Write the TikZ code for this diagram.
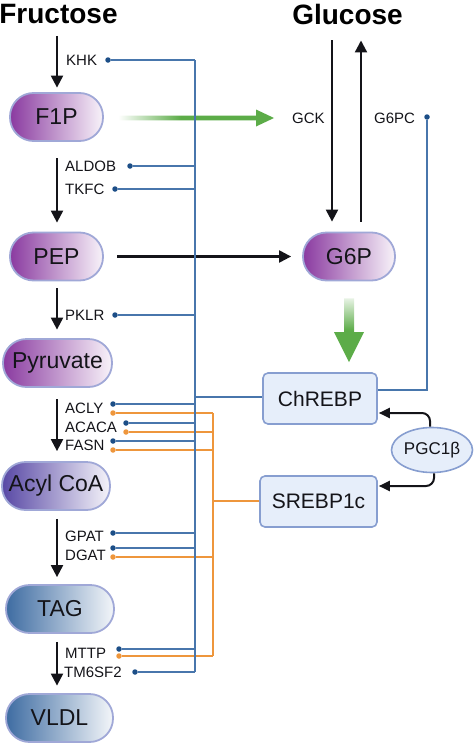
\documentclass[tikz,border=0pt]{standalone}
\usepackage{fontspec}
\setmainfont{Liberation Sans}
\usetikzlibrary{arrows.meta,shapes.geometric,backgrounds}
\definecolor{linkblue}{RGB}{72,118,172}
\definecolor{dotblue}{RGB}{28,78,135}
\definecolor{linkorange}{RGB}{238,150,60}
\definecolor{arrowgreen}{RGB}{92,172,72}
\definecolor{pillline}{RGB}{160,168,215}
\definecolor{boxfill}{RGB}{230,238,250}
\definecolor{boxline}{RGB}{135,158,208}
\definecolor{sugar}{RGB}{138,58,160}
\definecolor{lipid}{RGB}{88,72,165}
\definecolor{fat}{RGB}{62,108,162}
\definecolor{ink}{RGB}{20,20,25}
\colorlet{greenpale}{white!85!arrowgreen}
\pgfdeclarehorizontalshading{faderight}{100bp}{color(0bp)=(white); color(25bp)=(white); color(45bp)=(arrowgreen); color(100bp)=(arrowgreen)}
\pgfdeclareverticalshading{fadedown}{100bp}{color(0bp)=(arrowgreen); color(50bp)=(arrowgreen); color(75bp)=(greenpale); color(100bp)=(greenpale)}

\begin{document}
\begin{tikzpicture}[x=1pt,y=-1pt,
pill/.style={draw=pillline, line width=1.8pt, rounded corners=23.5pt, minimum height=48pt,
    minimum width=93pt, inner sep=0pt, font=\fontsize{23}{23}\selectfont, text=ink,
    left color=#1, right color=white!94!#1},
pill/.default=sugar,
box/.style={draw=boxline, fill=boxfill, line width=1.6pt, rounded corners=5pt,
    minimum height=51pt, inner sep=0pt, font=\fontsize{21}{21}\selectfont, text=ink},
gene/.style={anchor=west, inner sep=0pt, font=\fontsize{15}{15}\selectfont, text=ink},
title/.style={inner sep=0pt, font=\fontsize{28}{28}\selectfont\bfseries},
dot/.style={circle, fill=dotblue, inner sep=0pt, minimum size=5.5pt},
odot/.style={dot, fill=linkorange},
flow/.style={draw=ink, line width=2.2pt, -{Triangle[length=12pt,width=12pt]},
    shorten <=8pt, shorten >=8pt},
bline/.style={draw=linkblue, line width=1.4pt},
oline/.style={draw=linkorange, line width=1.4pt}]
\useasboundingbox (0,0) rectangle (474,744);

\node[title] (fru) at (58.5,14) {Fructose};
\node[title] (glu) at (347.5,14) {Glucose};

\node[pill] (f1p) at (56.5,117) {F1P};
\node[pill] (pep) at (56.5,256.5) {PEP};
\node[pill, minimum width=109pt] (pyr) at (57.5,363) {Pyruvate};
\node[pill=lipid, minimum width=108pt] (acyl) at (56,486) {Acyl CoA};
\node[pill=fat, minimum width=108pt] (tag) at (60,609) {TAG};
\node[pill=fat, minimum width=107pt] (vldl) at (59.5,718) {VLDL};
\node[pill, minimum width=92pt] (g6p) at (349,256.5) {G6P};

\node[box, minimum width=114pt] (chrebp) at (320,398.5) {ChREBP};
\node[box, minimum width=117pt] (srebp) at (318.5,501.5) {SREBP1c};
\node[ellipse, draw=boxline, fill=boxfill, line width=1.6pt, minimum width=81pt,
    minimum height=45pt, inner sep=0pt, font=\fontsize{17}{17}\selectfont, text=ink]
    (pgc) at (432,450) {PGC1β};

\foreach \n/\t/\x/\y in {khk/KHK/66/60.5, aldob/ALDOB/65/166, tkfc/TKFC/65/189,
    pklr/PKLR/65/315, acly/ACLY/65/408, acaca/ACACA/65/427, fasn/FASN/65/445.5,
    gpat/GPAT/65/536, dgat/DGAT/65/555, mttp/MTTP/65/653.5, tm6sf2/TM6SF2/64/672.5,
    gck/GCK/292/118, g6pc/G6PC/374/118}
  \node[gene] (\n) at (\x,\y) {\t};

\foreach \n/\x/\y in {khk/108/60, aldob/130/166, tkfc/115/189, pklr/115/315,
    acly/113/404, acaca/126/423, fasn/113/441, gpat/113/533, dgat/113/548,
    mttp/119/649, tm6sf2/135/672, g6pc/427/117}
  \node[dot] (\n-b) at (\x,\y) {};
\foreach \n/\x/\y in {acly/113/413, acaca/126/432, fasn/113/450, dgat/113/557,
    mttp/119/656}
  \node[odot] (\n-o) at (\x,\y) {};

\coordinate (spine) at (57,0);
\coordinate (bus) at (195,0);
\coordinate (obus) at (213,0);
\coordinate (gdn) at (332,0);
\coordinate (gup) at (361,0);
\coordinate (gs) at (f1p.east |- gck.west);
\coordinate (ge) at ([xshift=-18pt]gck.west);
\coordinate (vs) at ([yshift=-17pt]g6p.south);
\coordinate (ve) at (g6p.south |- chrebp.north);

\draw[flow, shorten <=12pt, shorten >=4.5pt] (fru.south -| spine) -- (f1p.north -| spine);
\draw[flow, shorten <=16.5pt, shorten >=9pt] (f1p.south -| spine) -- (pep.north -| spine);
\draw[flow, shorten <=7pt, shorten >=8.5pt] (pep.south -| spine) -- (pyr.north -| spine);
\draw[flow, shorten <=11.5pt, shorten >=10pt] (pyr.south -| spine) -- (acyl.north -| spine);
\draw[flow, shorten >=7pt] (acyl.south -| spine) -- (tag.north -| spine);
\draw[flow, shorten >=7.5pt] (tag.south -| spine) -- (vldl.north -| spine);
\draw[flow, shorten <=16pt, shorten >=10pt] (glu.south -| gdn) -- (g6p.north -| gdn);
\draw[flow, shorten <=10pt, shorten >=16pt] (g6p.north -| gup) -- (glu.south -| gup);

\draw[flow, line width=2pt, -{Triangle[length=11pt,width=10pt]}, rounded corners=8pt,
    shorten <=0pt, shorten >=1pt] ([xshift=-2pt]pgc.north) |- ([yshift=-14.5pt]chrebp.east);
\draw[flow, line width=2pt, -{Triangle[length=11pt,width=10pt]}, rounded corners=8pt,
    shorten <=0pt, shorten >=1pt] ([xshift=2pt]pgc.south) |- ([yshift=15.5pt]srebp.east);

\begin{scope}[on background layer]
\draw[flow, shorten <=13.5pt, shorten >=11pt] (pep.east) -- (g6p.west);
\shade[shading=faderight] ([shift={(14.5pt,2.4pt)}]gs) -- ([shift={(-18pt,2.4pt)}]ge)
    -- ([shift={(-18pt,8.5pt)}]ge) -- (ge) -- ([shift={(-18pt,-8.5pt)}]ge)
    -- ([shift={(-18pt,-2.4pt)}]ge) -- ([shift={(14.5pt,-2.4pt)}]gs) -- cycle;
\shade[shading=fadedown] ([xshift=-5pt]vs) -- ([shift={(-5pt,40pt)}]ve)
    -- ([shift={(-15pt,40pt)}]ve) -- ([yshift=10pt]ve) -- ([shift={(15pt,40pt)}]ve)
    -- ([shift={(5pt,40pt)}]ve) -- ([xshift=5pt]vs) -- cycle;
\foreach \n in {acly,acaca,fasn,dgat,mttp}
  \draw[oline] (\n-o) -- (\n-o -| obus);
\draw[oline] (acly-o -| obus) -- (mttp-o -| obus);
\draw[oline] ([yshift=0.5pt]srebp.west) -- ([yshift=0.5pt]srebp.west -| obus);
\foreach \n in {khk,aldob,tkfc,pklr,acly,acaca,fasn,gpat,dgat,mttp,tm6sf2}
  \draw[bline] (\n-b) -- (\n-b -| bus);
\draw[bline] (khk-b -| bus) -- (tm6sf2-b -| bus);
\draw[bline] ([yshift=1.5pt]chrebp.west) -- ([yshift=1.5pt]chrebp.west -| bus);
\draw[bline] (g6pc-b) |- ([yshift=8.5pt]chrebp.east);
\end{scope}
\end{tikzpicture}
\end{document}
